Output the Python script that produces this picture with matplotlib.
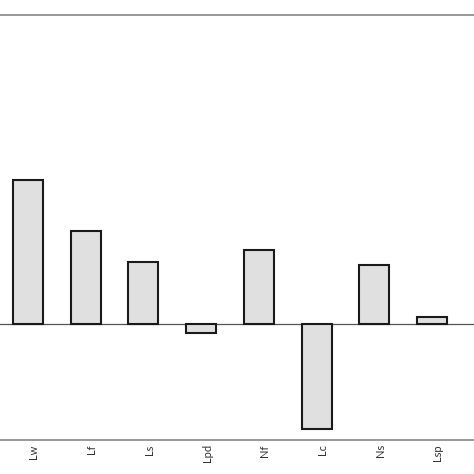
import matplotlib
matplotlib.use("Agg")
import matplotlib.pyplot as plt
import matplotlib.transforms as mtransforms

categories = ["Lw", "Lf", "Ls", "Lpd", "Nf", "Lc", "Ns", "Lsp"]
values = [0.372, 0.242, 0.162, -0.022, 0.192, -0.271, 0.154, 0.018]

fig = plt.figure(figsize=(4.74, 4.74), dpi=100)
ax = fig.add_axes([0, 34/474, 1, 425/474])

x = list(range(len(categories)))
ax.bar(x, values, width=0.52, color="#e0e0e0", edgecolor="#1a1a1a", linewidth=1.5, zorder=3)
ax.axhline(0, color="#555555", linewidth=0.9, zorder=2)

ax.set_ylim(-0.3, 0.8)
ax.set_xlim(-28/57.71, (474-28)/57.71)

for s in ["left", "right"]:
    ax.spines[s].set_visible(False)
for s in ["top", "bottom"]:
    ax.spines[s].set_color("#888888")
    ax.spines[s].set_linewidth(1.2)

ax.set_yticks([])
ax.set_xticks(x)
ax.set_xticklabels(categories, rotation=90, fontsize=8, color="#333333", family=["Lato", "DejaVu Sans"])
ax.tick_params(axis="x", length=0, pad=3)
offset = mtransforms.ScaledTranslation(6/100, 0, fig.dpi_scale_trans)
for lab in ax.get_xticklabels():
    lab.set_transform(lab.get_transform() + offset)

fig.savefig("out.png", dpi=100)
